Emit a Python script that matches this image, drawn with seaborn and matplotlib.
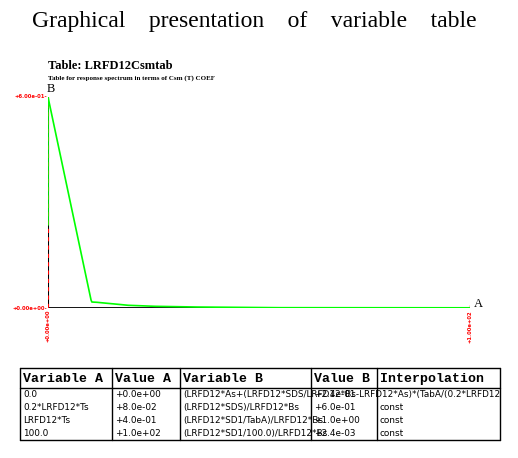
import numpy as np
import seaborn as sns
import matplotlib.pyplot as plt
from matplotlib.lines import Line2D

# curve of the table (period vs Csm)
period = [0.0, 0.0, 10.2, 10.4, 11.6, 14.0, 16.6, 19.0, 25.4, 35.3, 55.0, 100.0]
csm = [0.236, 0.600, 0.0227, 0.017, 0.0162, 0.0134, 0.0105, 0.0077, 0.0048, 0.0028, 0.0009, 0.0006]

x_labels = ["+0.00e+00", "+1.00e+02"]
y_labels = ["+0.00e+00", "+6.00e-01"]

col_names = ["Variable A", "Value A", "Variable B", "Value B", "Interpolation"]
var_a = ["0.0", "0.2*LRFD12*Ts", "LRFD12*Ts", "100.0"]
val_a = ["+0.0e+00", "+8.0e-02", "+4.0e-01", "+1.0e+02"]
var_b = ["(LRFD12*As+(LRFD12*SDS/LRFD12*Bs-LRFD12*As)*(TabA/(0.2*LRFD12*Ts)))",
         "(LRFD12*SDS)/LRFD12*Bs",
         "(LRFD12*SD1/TabA)/LRFD12*Bs",
         "(LRFD12*SD1/100.0)/LRFD12*Bs"]
val_b = ["+2.4e-01", "+6.0e-01", "+1.0e+00", "+2.4e-03"]
interp = ["", "const", "const", "const"]

W, H = 518, 458
sns.set_style("white")
plt.rcParams["text.color"] = "black"
fig = plt.figure(figsize=(W / 100, H / 100), dpi=100)

# full-figure overlay in pixel coordinates for text and the table
bg = fig.add_axes([0, 0, 1, 1])
bg.set_xlim(0, W)
bg.set_ylim(H, 0)
bg.axis("off")

serif = "Liberation Serif"
bg.text(32, 22, "Graphical    presentation    of    variable    table", fontsize=17,
        family=serif, ha="left", va="center")
bg.text(48, 66, "Table: LRFD12Csmtab", fontsize=9.0, family=serif,
        fontweight="bold", ha="left", va="center")
bg.text(48, 78, "Table for response spectrum in terms of Csm (T) COEF", fontsize=5.0,
        family=serif, fontweight="bold", ha="left", va="center")

# plot area
x0, x1, ytop, ybot = 48, 470, 97, 308
ax = fig.add_axes([x0 / W, 1 - ybot / H, (x1 - x0) / W, (ybot - ytop) / H])
ax.set_xlim(0, 100)
ax.set_ylim(0, 0.6)
ax.axis("off")

ax.axhline(0, color="black", lw=1.3, zorder=1)
ax.plot([0, 0], [0, 0.6], color="black", lw=1.5, zorder=1)
ax.plot([0, 0], [0, 0.6], color="red", lw=1.5, ls=(0, (2, 2)), zorder=2)
sns.lineplot(x=period, y=csm, sort=False, estimator=None, color="#00ff00",
             lw=1.2, ax=ax, zorder=3)
ax.plot([100, 100], [0, 0.008], color="red", lw=1, zorder=2)

red_kw = dict(color="red", fontsize=3.8, family="DejaVu Sans", fontweight="bold")
bg.text(x0 - 1, ytop, y_labels[1] + "-", ha="right", va="center", **red_kw)
bg.text(x0 - 1, ybot, y_labels[0] + "-", ha="right", va="center", **red_kw)
bg.text(x0, ybot + 2, x_labels[0], ha="center", va="top", rotation=90, **red_kw)
bg.text(x1, ybot + 2, x_labels[1], ha="center", va="top", rotation=90, **red_kw)
bg.text(x0 + 3, ytop - 8, "B", fontsize=9, family=serif, ha="center", va="center")
bg.text(x1 + 8, ybot - 4, "A", fontsize=9, family=serif, ha="center", va="center")

# table, drawn in its own axes so that overflowing cells are clipped at the border
cols = [20, 112, 180, 311, 377, 500]
rows = [368, 388, 401, 414, 427, 440]
tab = fig.add_axes([cols[0] / W, 1 - rows[-1] / H, (cols[-1] - cols[0]) / W,
                    (rows[-1] - rows[0]) / H])
tab.set_xlim(cols[0], cols[-1])
tab.set_ylim(rows[-1], rows[0])
tab.axis("off")

line_kw = dict(color="black", lw=1, clip_on=False)
for c in cols:
    tab.add_line(Line2D([c, c], [rows[0], rows[-1]], **line_kw))
for r in [rows[0], rows[1], rows[-1]]:
    tab.add_line(Line2D([cols[0], cols[-1]], [r, r], **line_kw))

for c, name in zip(cols[:-1], col_names):
    tab.text(c + 3, (rows[0] + rows[1]) / 2 + 1, name, fontsize=9.5,
             family="Liberation Mono", fontweight="bold", ha="left", va="center")

for i in range(len(var_a)):
    yc = (rows[i + 1] + rows[i + 2]) / 2
    cells = [var_a[i], val_a[i], var_b[i], val_b[i], interp[i]]
    for c, s in zip(cols[:-1], cells):
        tab.text(c + 3, yc, s, fontsize=6.4, family="DejaVu Sans",
                 ha="left", va="center", clip_on=True)

fig.savefig("out.png", dpi=100)
